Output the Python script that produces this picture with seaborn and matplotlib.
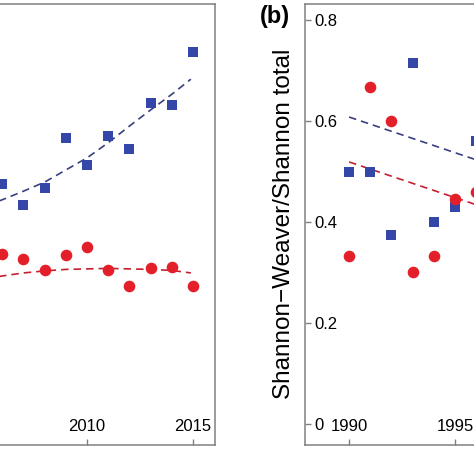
import numpy as np
import pandas as pd
import matplotlib
matplotlib.use('Agg')
import matplotlib.pyplot as plt
import seaborn as sns

# ── data ─────────────────────────────────────────────────
# panel (a): only 2006-2015 is visible
years_a = [2006, 2007, 2008, 2009, 2010, 2011, 2012, 2013, 2014, 2015]
blue_a = [0.475, 0.434, 0.467, 0.566, 0.513, 0.570, 0.545, 0.636, 0.632, 0.737]
red_a = [0.337, 0.327, 0.305, 0.335, 0.350, 0.305, 0.273, 0.309, 0.311, 0.273]
trend_years_a = [2005, 2006, 2007, 2008, 2009, 2010, 2011, 2012, 2013, 2014, 2014.9]
blue_trend_a = [0.428, 0.444, 0.461, 0.479, 0.503, 0.527, 0.557, 0.590, 0.622, 0.653, 0.683]
red_trend_a = [0.285, 0.293, 0.299, 0.303, 0.306, 0.307, 0.308, 0.307, 0.306, 0.304, 0.299]

# panel (b): only 1990-1996 is visible
years_b = [1990, 1991, 1992, 1993, 1994, 1995, 1996]
blue_b = [0.500, 0.500, 0.375, 0.715, 0.400, 0.430, 0.560]
red_b = [0.333, 0.667, 0.600, 0.300, 0.333, 0.445, 0.460]
trend_years_b = [1990, 1997]
blue_trend_b = [0.608, 0.509]
red_trend_b = [0.519, 0.420]

xticks_a = [2010, 2015]
xticks_b = [1990, 1995]
yticks_b = [0, 0.2, 0.4, 0.6, 0.8]

BLUE = '#3446a8'
RED = '#e3202a'
BLUE_LINE = '#3a3f7e'
RED_LINE = '#c4202f'
SPINE = '#808080'

sns.set_style('white')
plt.rcParams['font.family'] = ['Liberation Sans', 'DejaVu Sans']
plt.rcParams['text.color'] = 'black'

fig = plt.figure(figsize=(4.74, 4.74), dpi=100)
W = 474.0
# both panels are wider than the visible crop
ax_a = fig.add_axes([-381 / W, 29 / W, 596 / W, 441 / W])
ax_b = fig.add_axes([305 / W, 29 / W, 596 / W, 441 / W])

XLIM = (1987.92, 2016.04)
YLIM = (-0.042, 0.832)
dash = (0, (4.5, 3))

for ax, yrs, bl, rd, ty, bt, rt in [
        (ax_a, years_a, blue_a, red_a, trend_years_a, blue_trend_a, red_trend_a),
        (ax_b, years_b, blue_b, red_b, trend_years_b, blue_trend_b, red_trend_b)]:
    sns.lineplot(x=ty, y=bt, ax=ax, color=BLUE_LINE, lw=1.2, linestyle=dash)
    sns.lineplot(x=ty, y=rt, ax=ax, color=RED_LINE, lw=1.2, linestyle=dash)
    sns.scatterplot(x=yrs, y=bl, ax=ax, marker='s', s=62, color=BLUE,
                    linewidth=0, zorder=3)
    sns.scatterplot(x=yrs, y=rd, ax=ax, marker='o', s=70, color=RED,
                    linewidth=0, zorder=3)
    ax.set_xlim(XLIM)
    ax.set_ylim(YLIM)
    for sp in ax.spines.values():
        sp.set_color(SPINE)
        sp.set_linewidth(1.1)
    ax.tick_params(direction='in', length=4.5, width=1.0, color=SPINE,
                   labelsize=12, labelcolor='black', bottom=True, left=True)
    ax.tick_params(axis='x', pad=-18.5)

ax_a.set_xticks(xticks_a)
ax_a.set_yticks([])
ax_b.set_xticks(xticks_b)
ax_b.set_yticks(yticks_b)
ax_b.set_yticklabels(['0', '0.2', '0.4', '0.6', '0.8'])
ax_b.tick_params(axis='y', pad=-7)
for lab in ax_b.get_yticklabels():
    lab.set_ha('left')

fig.text(284 / W, 1 - 224 / W, 'Shannon\u2212Weaver/Shannon total',
         rotation=90, ha='center', va='center', fontsize=17.5, color='black')
fig.text(275 / W, 1 - 17 / W, '(b)', ha='center', va='center',
         fontsize=17, fontweight='bold', color='black')

plt.savefig('out.png', dpi=100)
plt.close()
